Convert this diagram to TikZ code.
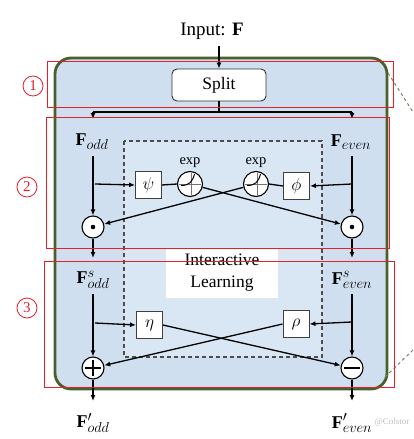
\documentclass[tikz,border=0pt]{standalone}
\usepackage{fontspec}
\setmainfont{Liberation Serif}
\usetikzlibrary{arrows.meta}
\DeclareMathSizes{18}{18}{15.5}{12}
\definecolor{outerfill}{RGB}{207,223,240}
\definecolor{innerfill}{RGB}{217,230,244}
\definecolor{boxgreen}{RGB}{72,96,46}
\definecolor{markred}{RGB}{232,30,40}
\definecolor{zoomline}{RGB}{110,135,95}
\tikzset{
  arr/.style={-{Latex[length=6pt,width=5pt]}, line width=1.3pt},
  conn/.style={line width=1.3pt},
  opbox/.style={draw=black!75, fill=white, line width=0.9pt, minimum width=26pt, minimum height=27pt, inner sep=0pt, font=\fontsize{17}{20}\selectfont},
  opcirc/.style={circle, draw=black, fill=white, line width=1.1pt, minimum size=22pt, inner sep=0pt},
  expcirc/.style={circle, draw=black, fill=white, line width=1.1pt, minimum size=25pt, inner sep=0pt},
  lab/.style={font=\fontsize{18}{20}\selectfont, inner sep=1pt},
  redbox/.style={draw=markred, line width=0.9pt},
  rednum/.style={circle, draw=markred, text=markred, line width=0.8pt, minimum size=20pt, inner sep=0pt, font=\fontsize{15}{16}\selectfont},
  explab/.style={font=\fontsize{14.5}{16}\selectfont, inner sep=0pt},
}
\begin{document}
\begin{tikzpicture}[x=1pt,y=-1pt]
\useasboundingbox (0,0) rectangle (413,439);
% outer module box
\draw[boxgreen, fill=outerfill, line width=2.8pt, rounded corners=16pt] (55,58) rectangle (387,389);
% dashed interactive region
\draw[black!70, fill=innerfill, dashed, dash pattern=on 4pt off 3pt, line width=1.1pt] (124,141) rectangle (322,357);
\node[fill=white, minimum width=112pt, minimum height=50pt, inner sep=0pt, align=center, font=\fontsize{17.5}{22}\selectfont] (il) at (222,273) {Interactive\\Learning};
% zoom lines
\coordinate (zt1) at (388,73);
\coordinate (zt2) at (413,112);
\coordinate (zb1) at (385,377);
\coordinate (zb2) at (413,350);
\draw[zoomline, dashed, dash pattern=on 3pt off 3pt, line width=1pt] (zt1) -- (zt2);
\draw[zoomline, dashed, dash pattern=on 3pt off 3pt, line width=1pt] (zb1) -- (zb2);

% input and split
\node[font=\fontsize{19}{22}\selectfont, inner sep=1pt] (inp) at (212,31) {Input: \textbf{F}};
\node[draw=black!80, fill=white, rounded corners=5pt, line width=0.9pt, minimum width=94pt, minimum height=32pt, font=\fontsize{17.5}{20}\selectfont] (split) at (219,85) {Split};
\coordinate (inTop) at (219,46);
\draw[arr] (inTop) -- (split.north);
\coordinate (sb) at (219,112);
\coordinate (sbl) at (93,112);
\coordinate (sbr) at (352,112);
\coordinate (sal) at (93,119);
\coordinate (sar) at (352,119);
\draw[conn] (split.south) -- (sb);
\draw[conn] (sbl) -- (sbr);
\draw[arr] (sbl) -- (sal);
\draw[arr] (sbr) -- (sar);

% stage 2
\node[lab] (fodd) at (92,142) {$\mathbf{F}_{odd}$};
\node[lab] (feven) at (351,142) {$\mathbf{F}_{even}$};
\node[opbox] (psi) at (148.5,185) {$\psi$};
\node[opbox] (phi) at (296.5,186) {$\phi$};
\node[expcirc] (exp1) at (190,184) {};
\node[expcirc] (exp2) at (256,184) {};
\node[explab] (el1) at (190,163) {exp};
\node[explab] (el2) at (256,163) {exp};
\foreach \e in {exp1,exp2}{
  \begin{scope}[shift={(\e)}]
    \draw[black!55, line width=0.9pt] (-11,0) -- (11,0);
    \draw[black!55, line width=0.9pt] (1.5,-11) -- (1.5,11);
    \draw[black, line width=1pt] (-9,1.5) .. controls (-1,1.5) and (2.5,-2) .. (4.5,-10);
  \end{scope}
}
\node[opcirc] (dotO) at (93,227) {};
\node[opcirc] (dotE) at (352,227) {};
\fill (dotO) circle (2.3pt);
\fill (dotE) circle (2.3pt);
\coordinate (fot) at (93,156);
\coordinate (fet) at (352,156);
\coordinate (bo) at (95,184);
\coordinate (be) at (352,184);
\draw[arr] (fot) -- (dotO.north);
\draw[arr] (fet) -- (dotE.north);
\draw[arr] (bo) -- (psi.west);
\draw[arr] (be) -- (phi.east);
\draw[conn] (psi.east) -- (exp1.west);
\draw[conn] (phi.west) -- (exp2.east);
\draw[arr] (exp1) -- (dotE);
\draw[arr] (exp2) -- (dotO);
\coordinate (do2) at (93,258);
\coordinate (de2) at (352,258);
\draw[arr] (dotO.south) -- (do2);
\draw[arr] (dotE.south) -- (de2);

% stage 3
\node[lab] (fsodd) at (93,280) {$\mathbf{F}^{s}_{odd}$};
\node[lab] (fseven) at (352,280) {$\mathbf{F}^{s}_{even}$};
\node[opbox] (eta) at (149.5,325) {$\eta$};
\node[opbox] (rho) at (296,324) {$\rho$};
\node[opcirc] (plus) at (93,368) {};
\node[opcirc] (minus) at (352,368) {};
\begin{scope}[shift={(plus)}]
  \draw[line width=1.5pt] (-8,0) -- (8,0);
  \draw[line width=1.5pt] (0,-8) -- (0,8);
\end{scope}
\begin{scope}[shift={(minus)}]
  \draw[line width=1.5pt] (-8,0) -- (8,0);
\end{scope}
\coordinate (fsot) at (93,294);
\coordinate (fset) at (352,294);
\coordinate (bo3) at (95,323);
\coordinate (be3) at (352,322);
\draw[arr] (fsot) -- (plus.north);
\draw[arr] (fset) -- (minus.north);
\draw[arr] (bo3) -- (eta.west);
\draw[arr] (be3) -- (rho.east);
\draw[arr] (eta.east) -- (minus);
\draw[arr] (rho.west) -- (plus);
\coordinate (po) at (93,401);
\coordinate (pe) at (352,401);
\draw[arr] (plus.south) -- (po);
\draw[arr] (minus.south) -- (pe);
\node[lab] (fpodd) at (93,423) {$\mathbf{F}'_{odd}$};
\node[lab] (fpeven) at (352,423) {$\mathbf{F}'_{even}$};
\node[font=\fontsize{9}{10}\selectfont, text=black!25, inner sep=0pt] (wm) at (392,422) {@Colstor};

% red annotation boxes
\draw[redbox] (47,61) rectangle (393,107);
\draw[redbox] (46,117) rectangle (389,248);
\draw[redbox] (44,261) rectangle (394,387);
\node[rednum] (n1) at (33,86) {1};
\node[rednum] (n2) at (27,187) {2};
\node[rednum] (n3) at (27,308) {3};
\end{tikzpicture}
\end{document}
